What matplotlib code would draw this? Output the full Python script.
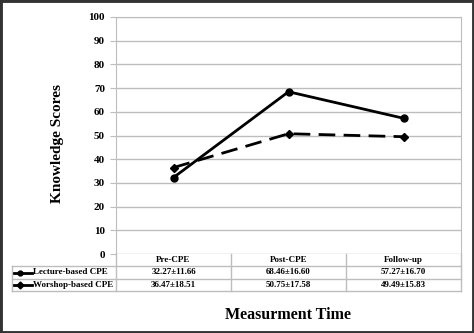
import matplotlib
matplotlib.use("Agg")
import matplotlib.pyplot as plt
from matplotlib.patches import Rectangle

times = ["Pre-CPE", "Post-CPE", "Follow-up"]
lecture = [32.27, 68.46, 57.27]
workshop = [36.47, 50.75, 49.49]
lecture_txt = ["32.27\u00b111.66", "68.46\u00b116.60", "57.27\u00b116.70"]
workshop_txt = ["36.47\u00b118.51", "50.75\u00b117.58", "49.49\u00b115.83"]
series_names = ["Lecture-based CPE", "Worshop-based CPE"]
yticks = list(range(0, 101, 10))

plt.rcParams['font.family'] = ['Liberation Serif', 'DejaVu Serif']
plt.rcParams['font.weight'] = 'bold'

W, H = 474, 333
fig = plt.figure(figsize=(W / 100, H / 100), dpi=100)

def px(x0, y0, x1, y1):
    return [x0 / W, 1 - y1 / H, (x1 - x0) / W, (y1 - y0) / H]

grid_c = "#bdbdbd"

ax = fig.add_axes(px(116, 17, 461, 254))
x = range(len(times))
ax.plot(x, lecture, color="black", lw=2, marker="o", ms=5, zorder=3)
ax.plot(x, workshop, color="black", lw=2, ls=(0, (6, 3)), marker="D", ms=4.5, zorder=3)
ax.set_xlim(-0.5, 2.5)
ax.set_ylim(0, 100)
ax.set_yticks(yticks)
ax.set_xticks([])
ax.yaxis.grid(True, color=grid_c, lw=1)
ax.set_axisbelow(True)
for s in ax.spines.values():
    s.set_color(grid_c)
ax.spines["bottom"].set_visible(False)
ax.tick_params(axis="y", length=4, color=grid_c, labelsize=8, pad=4)
for t in ax.get_yticklabels():
    t.set_fontweight("bold")
ax.set_ylabel("Knowledge Scores", fontsize=11, fontweight="bold", va="center")
ax.yaxis.set_label_coords(-0.171, 0.465)

# data table under the plot
tax = fig.add_axes(px(12, 254, 461, 291))
tax.set_xlim(12, 461)
tax.set_ylim(3, 0)
tax.axis("off")
col_edges = [116, 231, 346, 461]
for xe in col_edges:
    tax.plot([xe, xe], [0, 3], color=grid_c, lw=1, clip_on=False)
tax.plot([12, 12], [1, 3], color=grid_c, lw=1, clip_on=False)
for ye in [1, 2, 3]:
    tax.plot([12, 461], [ye, ye], color=grid_c, lw=1, clip_on=False)
for i, name in enumerate(times):
    cx = (col_edges[i] + col_edges[i + 1]) / 2
    tax.text(cx, 0.5, name, ha="center", va="center", fontsize=6.5, fontweight="bold")
    tax.text(cx, 1.5, lecture_txt[i], ha="center", va="center", fontsize=6.5, fontweight="bold")
    tax.text(cx, 2.5, workshop_txt[i], ha="center", va="center", fontsize=6.5, fontweight="bold")
tax.plot([14, 32], [1.5, 1.5], color="black", lw=2, clip_on=False)
tax.plot([20], [1.5], color="black", marker="o", ms=3.5, clip_on=False)
tax.plot([14, 32], [2.5, 2.5], color="black", lw=2, clip_on=False)
tax.plot([20], [2.5], color="black", marker="D", ms=3.5, clip_on=False)
tax.text(33, 1.5, series_names[0], ha="left", va="center", fontsize=6.5, fontweight="bold")
tax.text(33, 2.5, series_names[1], ha="left", va="center", fontsize=6.5, fontweight="bold")

fig.text(288 / W, 1 - 315 / H, "Measurment Time", ha="center", va="center",
         fontsize=11.5, fontweight="bold")

fig.patches.append(Rectangle((0, 0), 1, 1, transform=fig.transFigure, fill=False,
                             edgecolor="#333333", lw=3.5, zorder=10))

fig.savefig("out.png", dpi=100)
